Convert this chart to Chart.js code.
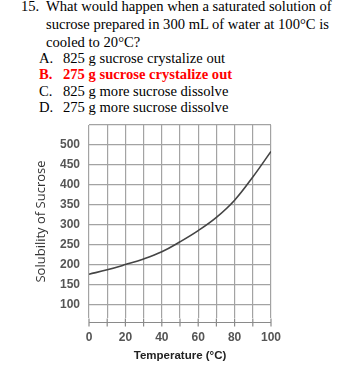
<!DOCTYPE html>
<html>
<head>
<meta charset="utf-8">
<script src="https://cdn.jsdelivr.net/npm/chart.js@4.4.0/dist/chart.umd.min.js"></script>
<style>
  body { margin: 0; background: #fff; }
  #wrap { position: relative; width: 352px; height: 377px; overflow: hidden; }
  canvas { position: absolute; left: 0; top: 0; }
  .q { position: absolute; font-family: "Liberation Serif", "Times New Roman", serif; font-size: 14.6px; color: #000; white-space: nowrap; line-height: 18px; }
  .red { color: #ff0000; font-weight: bold; }
</style>
</head>
<body>
<div id="wrap">
  <div class="q" style="left:21px; top:-3px;">15.</div>
  <div class="q" style="left:46px; top:-3px;">What would happen when a saturated solution of</div>
  <div class="q" style="left:46px; top:15px;">sucrose prepared in 300 mL of water at 100°C is</div>
  <div class="q" style="left:46px; top:33px;">cooled to 20°C?</div>
  <div class="q" style="left:39px; top:49px;">A.</div><div class="q" style="left:63px; top:49px;">825 g sucrose crystalize out</div>
  <div class="q red" style="left:39px; top:65px;">B.</div><div class="q red" style="left:63px; top:65px;">275 g sucrose crystalize out</div>
  <div class="q" style="left:39px; top:82px;">C.</div><div class="q" style="left:63px; top:82px;">825 g more sucrose dissolve</div>
  <div class="q" style="left:39px; top:98px;">D.</div><div class="q" style="left:63px; top:98px;">275 g more sucrose dissolve</div>
  <canvas id="chart" width="352" height="377"></canvas>
</div>
<script>
var temps = [0, 10, 20, 30, 40, 50, 60, 70, 80, 90, 100];
var solubility = [177, 188, 201, 215, 233, 258, 286, 319, 362, 420, 484];
var yTicks = [100, 150, 200, 250, 300, 350, 400, 450, 500, 550];
var xLabels = [0, 20, 40, 60, 80, 100];

var gridColor = '#a3a3a3';

// axis line with small ticks just under the grid
var bottomAxis = {
    id: 'bottomAxis',
    afterDraw: function (chart) {
        var c = chart.ctx;
        var xs = chart.scales.x;
        var y = chart.chartArea.bottom + 4.5;
        c.save();
        c.strokeStyle = '#8a8a8a';
        c.lineWidth = 1.2;
        c.beginPath();
        c.moveTo(xs.getPixelForValue(0), y);
        c.lineTo(xs.getPixelForValue(100), y);
        temps.forEach(function (t) {
            var px = xs.getPixelForValue(t);
            c.moveTo(px, y - 4);
            c.lineTo(px, y + 4);
        });
        c.stroke();
        c.restore();
    }
};

var ctx = document.getElementById('chart').getContext('2d');
var chart = new Chart(ctx, {
    type: 'line',
    data: {
        datasets: [{
            data: temps.map(function (t, i) { return { x: t, y: solubility[i] }; }),
            borderColor: '#444444',
            borderWidth: 1.6,
            pointRadius: 0,
            tension: 0.4,
            fill: false
        }]
    },
    options: {
        responsive: false,
        animation: false,
        layout: { padding: { top: 125, right: 81, bottom: 0, left: 0 } },
        plugins: { legend: { display: false }, tooltip: { enabled: false } },
        scales: {
            x: {
                type: 'linear',
                min: 0,
                max: 100,
                afterFit: function (s) { s.height = 59; },
                afterBuildTicks: function (s) { s.ticks = temps.map(function (v) { return { value: v }; }); },
                grid: { color: gridColor, lineWidth: 1.2, drawTicks: false },
                border: { display: false },
                ticks: {
                    autoSkip: false,
                    maxRotation: 0,
                    padding: 12,
                    color: '#555',
                    font: { family: 'Liberation Sans', size: 12, weight: 'bold' },
                    callback: function (v) { return xLabels.indexOf(v) >= 0 ? v : ''; }
                },
                title: {
                    display: true,
                    text: 'Temperature (°C)',
                    color: '#222',
                    font: { family: "'Liberation Sans Narrow', 'Liberation Sans', sans-serif", size: 11.5, weight: 'bold' },
                    padding: { top: 0, bottom: 14 }
                }
            },
            y: {
                min: 67.5,
                max: 550,
                afterFit: function (s) { s.width = 89; },
                afterBuildTicks: function (s) { s.ticks = yTicks.map(function (v) { return { value: v }; }); },
                grid: { color: gridColor, lineWidth: 1.2, drawTicks: false },
                border: { display: false },
                ticks: {
                    padding: 9,
                    color: '#555',
                    font: { family: 'Liberation Sans', size: 12, weight: 'bold' },
                    callback: function (v) { return v === 550 ? '' : v; }
                },
                title: {
                    display: true,
                    text: 'Solubility of Sucrose',
                    color: '#333',
                    font: { family: 'Open Sans', size: 13 },
                    padding: { top: 33, bottom: 0 }
                }
            }
        }
    },
    plugins: [bottomAxis]
});
</script>
</body>
</html>
